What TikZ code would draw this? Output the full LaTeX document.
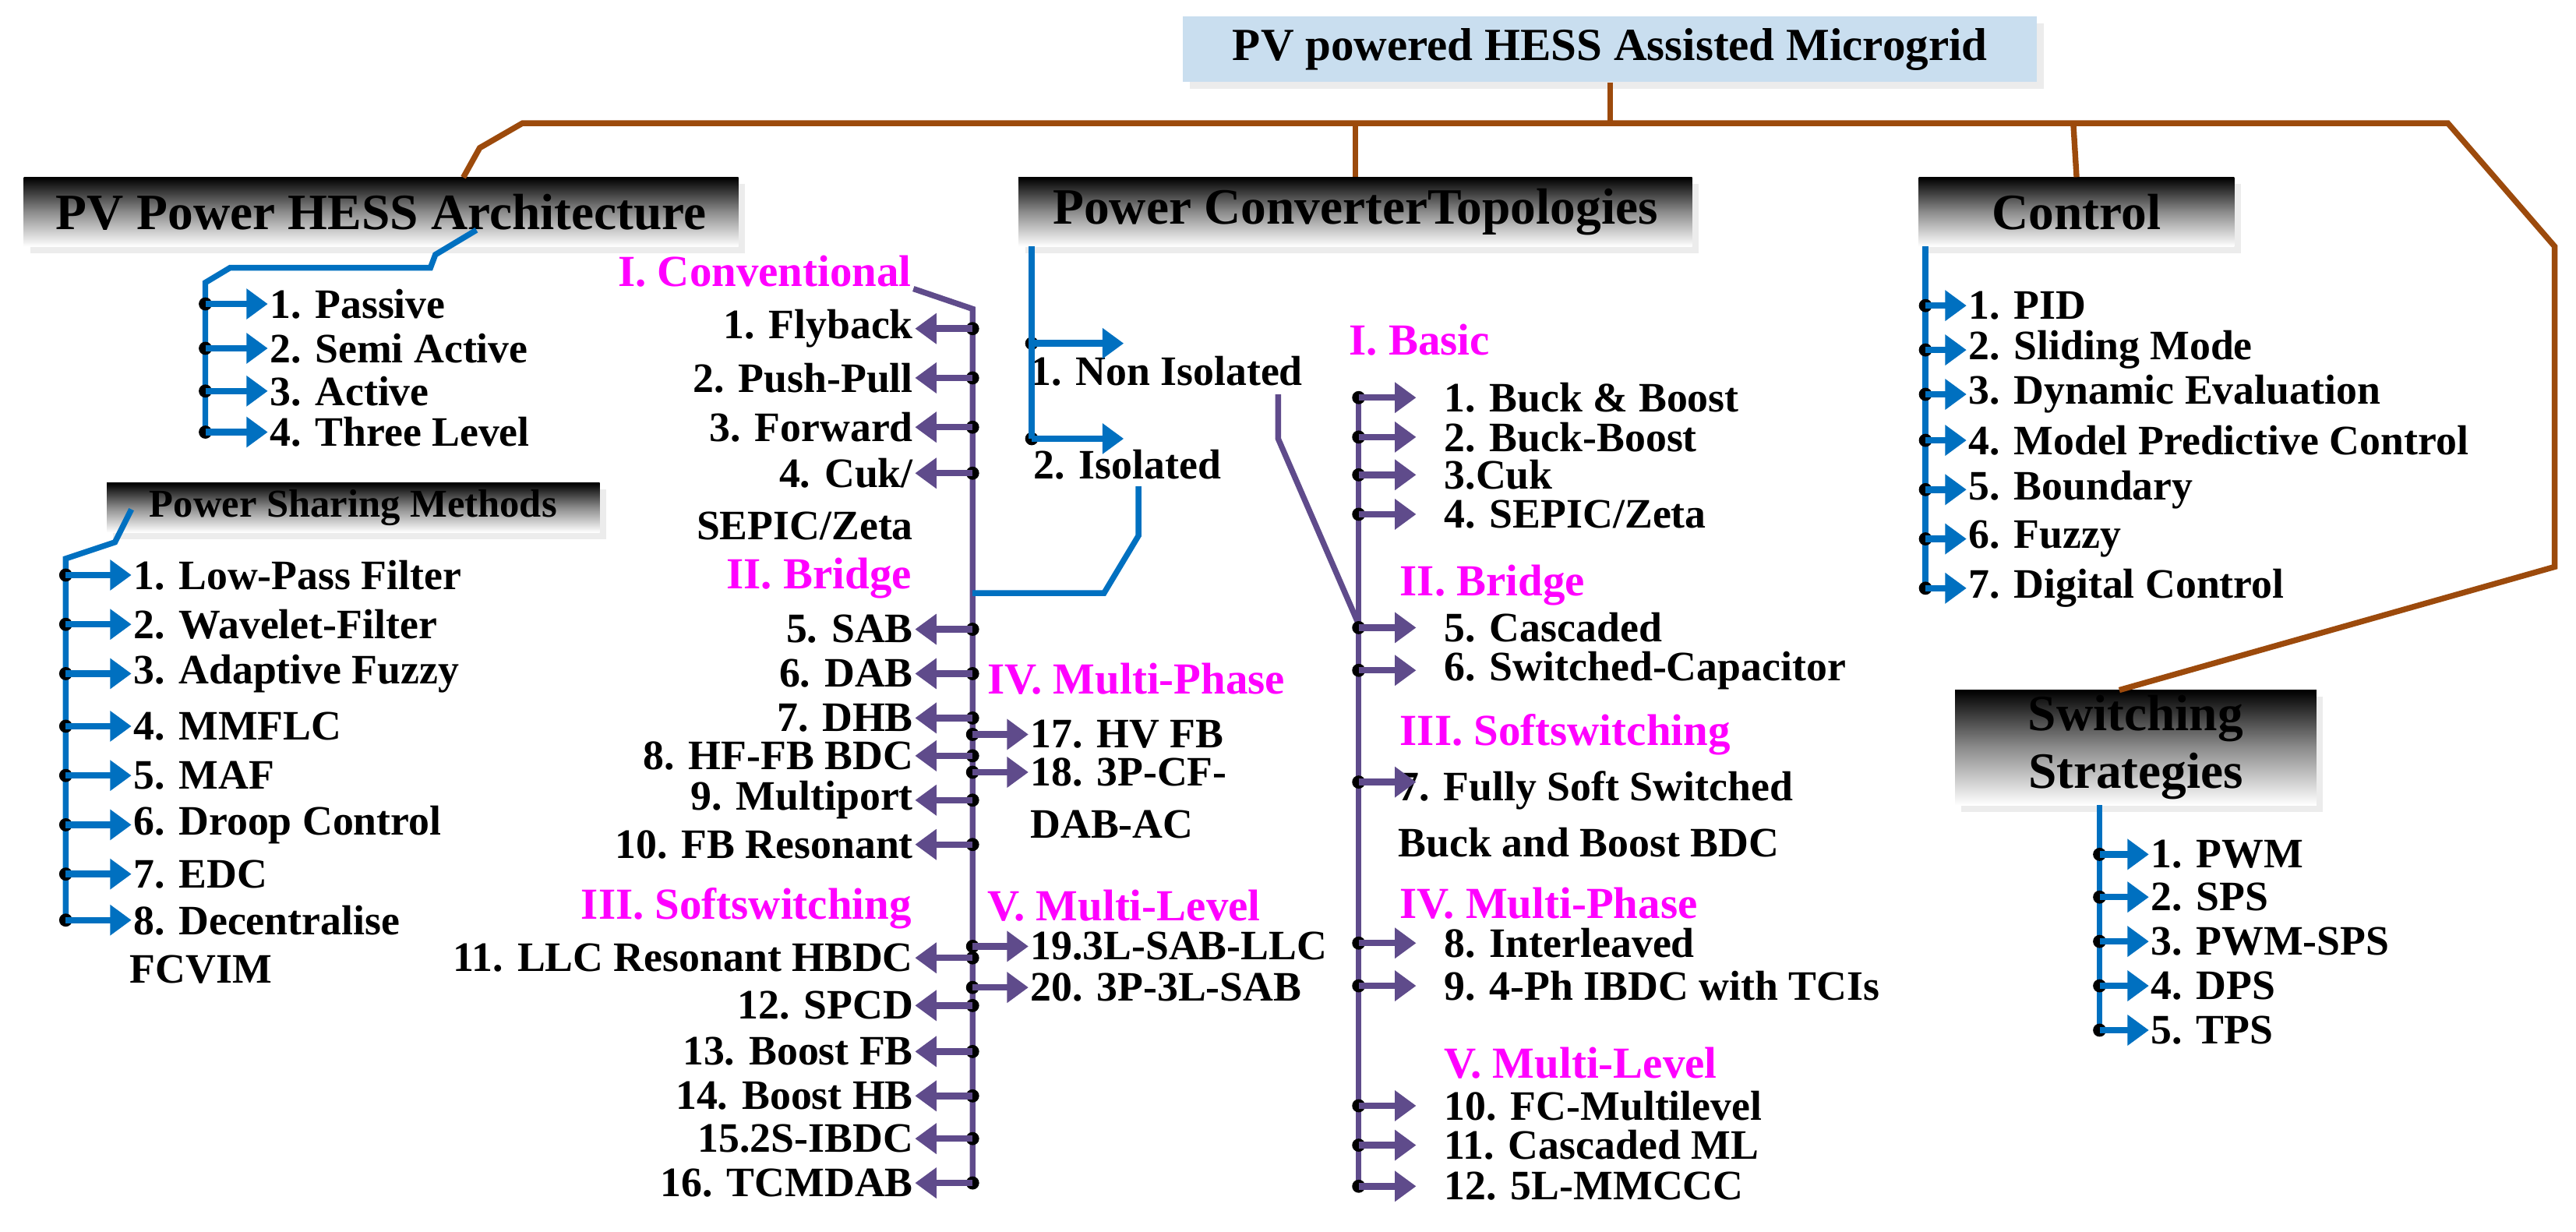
\documentclass[tikz,border=0pt]{standalone}
\usepackage{fontspec}
\setmainfont{Liberation Serif}
\usetikzlibrary{arrows.meta,shadows}
\definecolor{pvblue}{HTML}{0070C0}
\definecolor{pvpurple}{HTML}{5F4B8B}
\definecolor{pvbrown}{HTML}{9C4A0C}
\definecolor{pvmag}{HTML}{FF00FF}
\definecolor{ttl}{HTML}{C9DEEF}
\newcommand{\itf}{\fontsize{25.5}{29}\selectfont\bfseries}
\newcommand{\mgf}{\fontsize{27}{30}\selectfont\bfseries}
\tikzset{
  x=1pt,y=-1pt,
  itm/.style={font=\itf, inner sep=1pt, align=left},
  mag/.style={font=\mgf, text=pvmag, inner sep=1pt},
  pt/.style={circle, fill=black, inner sep=0pt, minimum size=8pt},
  barr/.style={draw=pvblue, line width=4pt, -{Triangle[width=18pt,length=13pt]}},
  parr/.style={draw=pvpurple, line width=4pt, -{Triangle[width=18pt,length=13pt]}},
  bln/.style={draw=pvblue, line width=3.5pt},
  pln/.style={draw=pvpurple, line width=3.5pt},
  brn/.style={draw=pvbrown, line width=3.5pt},
  hdr/.style={draw=none, top color=black, bottom color=white, middle color=white!55!black,
     drop shadow={shadow xshift=4pt,shadow yshift=-4pt,fill=black!15}, inner sep=0pt},
}
\begin{document}
\begin{tikzpicture}
\useasboundingbox (0,0) rectangle (1568,749.4);
% title
\node[fill=ttl, minimum width=520pt, minimum height=40pt, font=\fontsize{28}{30}\selectfont\bfseries,
  drop shadow={shadow xshift=4pt,shadow yshift=-4pt,fill=black!15}] (title) at (980,30) {PV powered HESS Assisted Microgrid};
% headers
\node[hdr, minimum width=435pt, minimum height=42pt, font=\fontsize{31}{33}\selectfont\bfseries] (hpv) at (232,129) {PV Power HESS Architecture};
\node[hdr, minimum width=410pt, minimum height=42pt, font=\fontsize{31}{33}\selectfont\bfseries] (hpc) at (825,129) {Power ConverterTopologies};
\node[hdr, minimum width=192pt, minimum height=42pt, font=\fontsize{31}{33}\selectfont\bfseries] (hct) at (1264,129) {Control};
\node[hdr, minimum width=300pt, minimum height=30pt, font=\fontsize{24}{26}\selectfont\bfseries] (hps) at (215,309) {Power Sharing Methods};
\node[hdr, minimum width=220pt, minimum height=70pt, align=center, font=\fontsize{31}{35}\selectfont\bfseries] (hsw) at (1300,455) {Switching\\Strategies};
% brown tree
\coordinate (b0) at (980,75);
\draw[brn] (title.south) -- (b0);
\draw[brn] (282,108) -- (292,90) -- (318,75) -- (1490,75) -- (1555,150) -- (1555,345) -- (1290,420);
\draw[brn] (825,75) -- (hpc.north);
\draw[brn] (1262,75) -- (hct.north);
% PV architecture
\draw[bln] (290,140) -- (265,155) -- (262,163) -- (140,163) -- (125,172) -- (125,263);
\foreach \y/\t [count=\i] in {185/1. Passive,212/2. Semi Active,238/3. Active,263/4. Three Level}{
  \node[pt] (pa\i) at (125,\y) {};
  \node[itm,anchor=west] (pat\i) at (163,\y) {\t};
  \draw[barr] (pa\i.center) -- (pat\i.west);
}
% Power sharing
\draw[bln] (80,310) -- (70,330) -- (40,340) -- (40,560);
\foreach \y/\t [count=\i] in {350/1. Low-Pass Filter,380/2. Wavelet-Filter,410/3. Adaptive Fuzzy,442/4. MMFLC,472/5. MAF,502/6. Droop Control,532/7. EDC,560/8. Decentralise}{
  \node[pt] (ps\i) at (40,\y) {};
  \node[itm,anchor=west] (pst\i) at (80,\y) {\t};
  \draw[barr] (ps\i.center) -- (pst\i.west);
}
\node[itm,anchor=west] (pst9) at (78,590) {FCVIM};
% Conventional column
\node[mag,anchor=east] (conv) at (556,165) {I. Conventional};
\draw[pln] (conv.south east) -- (592,188) -- (592,720);
\foreach \y/\t [count=\i] in {200/1. Flyback,230/2. Push-Pull,260/3. Forward,288/{4. Cuk/},383/5. SAB,410/6. DAB,437/7. DHB,460/8. HF-FB BDC,487/9. Multiport,514/10. FB Resonant,583/11. LLC Resonant HBDC,612/12. SPCD,640/13. Boost FB,667/14. Boost HB,693/15.2S-IBDC,720/16. TCMDAB}{
  \node[pt] (cv\i) at (592,\y) {};
  \node[itm,anchor=east] (cvt\i) at (557,\y) {\t};
  \draw[parr] (cv\i.center) -- (cvt\i.east);
}
\node[itm,anchor=east] (sepic) at (557,320) {SEPIC/Zeta};
\node[mag,anchor=east] (brg) at (556,352) {II. Bridge};
\node[mag,anchor=east] (soft) at (556,553) {III. Softswitching};
\node[mag,anchor=west] (mph) at (600,413) {IV. Multi-Phase};
\node[mag,anchor=west] (mlv) at (600,551) {V. Multi-Level};
\foreach \y/\t [count=\i] in {447/17. HV FB,470/18. 3P-CF-,576/19.3L-SAB-LLC,601/20. 3P-3L-SAB}{
  \node[pt] (cr\i) at (592,\y) {};
  \node[itm,anchor=west] (crt\i) at (626,\y) {\t};
  \draw[parr] (cr\i.center) -- (crt\i.west);
}
\node[itm,anchor=west] (dabac) at (626,502) {DAB-AC};
% Non isolated / isolated
\node[pt] (ni) at (628,209) {};
\node[pt] (is) at (628,267) {};
\node[itm,anchor=west] (nit) at (626,226) {1. Non Isolated};
\node[itm,anchor=west] (ist) at (628,283) {2. Isolated};
\draw[bln] (628,150) -- (is.center);
\coordinate (nie) at (684,209);
\coordinate (ise) at (684,267);
\draw[barr] (ni.center) -- (nie);
\draw[barr] (is.center) -- (ise);
\draw[bln] (693,296) -- (693,326) -- (672,361) -- (592,361);
% basic column
\draw[pln] (778,240) -- (778,267) -- (827,380);
\draw[pln] (827,240) -- (827,722);
\node[mag,anchor=west] (basic) at (820,207) {I. Basic};
\node[mag,anchor=west] (brg2) at (851,356) {II. Bridge};
\node[mag,anchor=west] (soft2) at (851,447) {III. Softswitching};
\node[mag,anchor=west] (mph2) at (851,550) {IV. Multi-Phase};
\node[mag,anchor=west] (mlv2) at (878,647) {V. Multi-Level};
\foreach \y/\t [count=\i] in {242/1. Buck \& Boost,266/2. Buck-Boost,289/3.Cuk,313/{4. SEPIC/Zeta},382/5. Cascaded,408/6. Switched-Capacitor,574/8. Interleaved,600/9. 4-Ph IBDC with TCIs,673/10. FC-Multilevel,697/11. Cascaded ML,722/12. 5L-MMCCC}{
  \node[pt] (bs\i) at (827,\y) {};
  \node[itm,anchor=west] (bst\i) at (878,\y) {\t};
  \coordinate (be\i) at (862,\y);
  \draw[parr] (bs\i.center) -- (be\i);
}
\node[pt] (fs) at (827,476) {};
\node[itm,anchor=west] (fst) at (850,481) {7. Fully Soft Switched};
\node[itm,anchor=west] (fst2) at (850,513) {Buck and Boost BDC};
\coordinate (fse) at (862,476);
\draw[parr] (fs.center) -- (fse);
% control
\draw[bln] (1172,150) -- (1172,358);
\foreach \y/\t [count=\i] in {186/1. PID,213/2. Sliding Mode,240/3. Dynamic Evaluation,268/4. Model Predictive Control,298/5. Boundary,328/6. Fuzzy,358/7. Digital Control}{
  \node[pt] (ct\i) at (1172,\y) {};
  \node[itm,anchor=west] (ctt\i) at (1197,\y) {\t};
  \draw[barr] (ct\i.center) -- (ctt\i.west);
}
% switching
\draw[bln] (1278,490) -- (1278,627);
\foreach \y/\t [count=\i] in {520/1. PWM,546/2. SPS,573/3. PWM-SPS,600/4. DPS,627/5. TPS}{
  \node[pt] (sw\i) at (1278,\y) {};
  \node[itm,anchor=west] (swt\i) at (1308,\y) {\t};
  \draw[barr] (sw\i.center) -- (swt\i.west);
}
\end{tikzpicture}
\end{document}
